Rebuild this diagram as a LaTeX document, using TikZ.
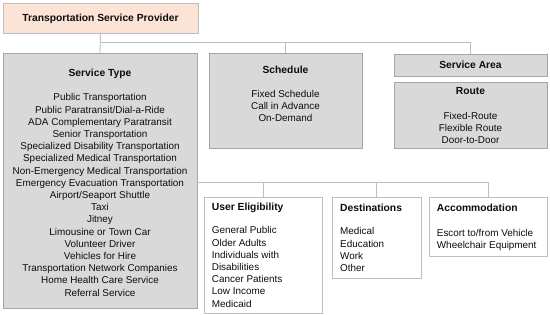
\documentclass[tikz,border=0pt]{standalone}
\usepackage{fontspec}
\setmainfont{Liberation Sans}
\definecolor{greyfill}{HTML}{D9D9D9}
\definecolor{greyline}{HTML}{A6A6A6}
\definecolor{conn}{HTML}{BFBFBF}
\definecolor{peach}{HTML}{FBE3D6}
\definecolor{txt}{HTML}{0D0D0D}
\begin{document}
\begin{tikzpicture}[x=1pt,y=-1pt,
  box/.style={draw=greyline,line width=0.9pt,anchor=north west,inner sep=0pt,outer sep=0pt},
  greybox/.style={box,fill=greyfill},
  whitebox/.style={box,draw=conn,fill=white},
  peachbox/.style={box,draw=conn,fill=peach},
  head/.style={font=\fontsize{10.3}{12.2}\selectfont\bfseries,text=txt,inner sep=0pt,anchor=north},
  lst/.style={font=\fontsize{9.9}{12.2}\selectfont,text=txt,inner sep=0pt,anchor=north,align=center},
  lstl/.style={font=\fontsize{9.9}{12.2}\selectfont,text=txt,inner sep=0pt,anchor=north west,align=left},
  headl/.style={head,anchor=north west},
  link/.style={draw=conn,line width=0.9pt}]
\useasboundingbox (0,0) rectangle (550,315);
% boxes
\node[peachbox,minimum width=195pt,minimum height=30pt] (prov) at (3,3) {};
\node[greybox,minimum width=194pt,minimum height=255pt] (st) at (3,53) {};
\node[greybox,minimum width=153pt,minimum height=95pt] (sch) at (209,53) {};
\node[greybox,minimum width=153pt,minimum height=22pt] (sa) at (394,54) {};
\node[greybox,minimum width=153pt,minimum height=66pt] (rt) at (394,82) {};
\node[whitebox,minimum width=118pt,minimum height=116pt] (ue) at (204,197) {};
\node[whitebox,minimum width=89pt,minimum height=81pt] (de) at (332,197) {};
\node[whitebox,minimum width=118pt,minimum height=59pt] (ac) at (429,197) {};
% connectors
\coordinate (j1) at (100,42.5);
\coordinate (j2) at (197,182.5);
\draw[link] (prov.south) -- (st.north);
\draw[link] (j1) -- (sa.north |- j1) -- (sa.north);
\draw[link] (sch.north |- j1) -- (sch.north);
\draw[link] (st.east |- j2) -- (ac.north |- j2) -- (ac.north);
\draw[link] (ue.north |- j2) -- (ue.north);
\draw[link] (de.north |- j2) -- (de.north);
% texts
\node[head] (tprov) at (100.5,14) {Transportation Service Provider};
\node[head] (tst) at (100,69) {Service Type};
\node[lst] (lst1) at (100,93.5) {Public Transportation\\Public Paratransit/Dial-a-Ride\\ADA Complementary Paratransit\\Senior Transportation\\Specialized Disability Transportation\\Specialized Medical Transportation\\Non-Emergency Medical Transportation\\Emergency Evacuation Transportation\\Airport/Seaport Shuttle\\Taxi\\Jitney\\Limousine or Town Car\\Volunteer Driver\\Vehicles for Hire\\Transportation Network Companies\\Home Health Care Service\\Referral Service};
\node[head] (tsch) at (285.5,66) {Schedule};
\node[lst] (lsch) at (285.5,90) {Fixed Schedule\\Call in Advance\\On-Demand};
\node[head] (tsa) at (470.5,61) {Service Area};
\node[head] (trt) at (470.5,87.5) {Route};
\node[lst] (lrt) at (470.5,112) {Fixed-Route\\Flexible Route\\Door-to-Door};
\node[headl] (tue) at (211.7,202.5) {User Eligibility};
\node[lstl] (lue) at (211.7,226.5) {General Public\\Older Adults\\Individuals with\\Disabilities\\Cancer Patients\\Low Income\\Medicaid};
\node[headl] (tde) at (340,203.5) {Destinations};
\node[lstl] (lde) at (340,227.5) {Medical\\Education\\Work\\Other};
\node[headl] (tac) at (436.7,204) {Accommodation};
\node[lstl] (lac) at (436.7,229) {Escort to/from Vehicle\\Wheelchair Equipment};
\end{tikzpicture}
\end{document}
